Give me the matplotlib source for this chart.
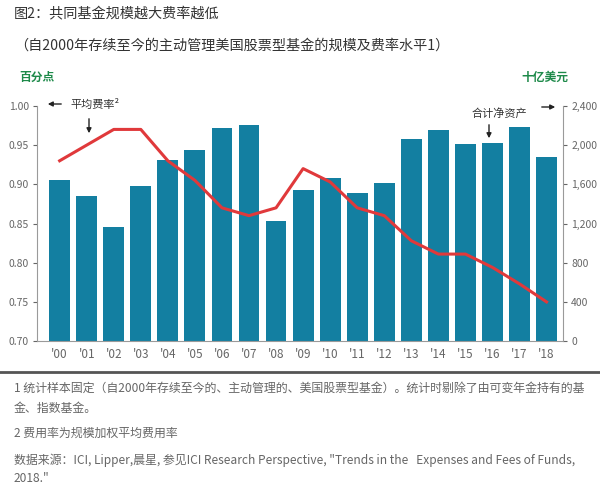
import matplotlib
matplotlib.use("Agg")
import matplotlib.pyplot as plt

plt.rcParams['font.family'] = ['Noto Sans CJK SC', 'DejaVu Sans']

years = ["'00", "'01", "'02", "'03", "'04", "'05", "'06", "'07", "'08", "'09",
         "'10", "'11", "'12", "'13", "'14", "'15", "'16", "'17", "'18"]
assets = [1640, 1480, 1160, 1580, 1845, 1955, 2170, 2210, 1230, 1545,
          1660, 1515, 1610, 2060, 2150, 2010, 2020, 2180, 1875]
expense = [0.93, 0.95, 0.97, 0.97, 0.93, 0.905, 0.87, 0.86, 0.87, 0.92,
           0.903, 0.87, 0.86, 0.828, 0.811, 0.811, 0.794, 0.773, 0.75]
left_ticks = [0.70, 0.75, 0.80, 0.85, 0.90, 0.95, 1.00]
right_ticks = [0, 400, 800, 1200, 1600, 2000, 2400]

bar_color = '#137fa1'
line_color = '#e0393b'
tick_color = '#666666'
spine_color = '#9a9a9a'
green = '#1e8a4a'

fig = plt.figure(figsize=(6.0, 4.88), dpi=100)
ax = fig.add_axes([0.062, 0.301, 0.876, 0.482])
x = list(range(len(years)))
ax.bar(x, assets, width=0.77, color=bar_color, zorder=2)
ax.set_ylim(0, 2400)
ax.set_xlim(-0.83, 18.6)

ax2 = ax.twinx()
ax2.plot(x, expense, color=line_color, lw=2.2, zorder=3)
ax2.set_ylim(0.70, 1.00)

# bars axis: ticks on the right
ax.yaxis.tick_right()
ax.yaxis.set_label_position('right')
ax.set_yticks(right_ticks)
ax.set_yticklabels([f"{v:,}" for v in right_ticks])
ax.set_xticks(x)
ax.set_xticklabels(years)
ax.tick_params(axis='x', length=0, labelsize=8.5, colors=tick_color, pad=5)
ax.tick_params(axis='y', length=3, labelsize=7.5, colors=tick_color, pad=3, direction='out',
               left=False, labelleft=False, right=True, labelright=True)
for s in ['top', 'left']:
    ax.spines[s].set_visible(False)
for s in ['right', 'bottom']:
    ax.spines[s].set_color(spine_color)

# line axis: ticks on the left
ax2.yaxis.tick_left()
ax2.set_yticks(left_ticks)
ax2.set_yticklabels([f"{v:.2f}" for v in left_ticks])
ax2.tick_params(axis='y', length=3, labelsize=7.5, colors=tick_color, pad=3, direction='out',
                right=False, labelright=False, left=True, labelleft=True)
for s in ['top', 'right', 'bottom']:
    ax2.spines[s].set_visible(False)
ax2.spines['left'].set_visible(True)
ax2.spines['left'].set_color(spine_color)

# annotations
fig.text(70/600, 1-104/488, '平均费率²', fontsize=8, color='#333333', va='center', ha='left')
fig.add_artist(matplotlib.patches.FancyArrowPatch((64/600, 1-104/488), (45/600, 1-104/488),
               transform=fig.transFigure, arrowstyle='-|>', mutation_scale=7, color='#222222', lw=1))
fig.add_artist(matplotlib.patches.FancyArrowPatch((89/600, 1-116/488), (89/600, 1-136/488),
               transform=fig.transFigure, arrowstyle='-|>', mutation_scale=7, color='#222222', lw=1))
fig.text(472/600, 1-113/488, '合计净资产', fontsize=8, color='#333333', va='center', ha='left')
fig.add_artist(matplotlib.patches.FancyArrowPatch((539/600, 1-107/488), (558/600, 1-107/488),
               transform=fig.transFigure, arrowstyle='-|>', mutation_scale=7, color='#222222', lw=1))
fig.add_artist(matplotlib.patches.FancyArrowPatch((489/600, 1-122/488), (489/600, 1-141/488),
               transform=fig.transFigure, arrowstyle='-|>', mutation_scale=7, color='#222222', lw=1))

# titles
fig.text(14/600, 1-13/488, '图2：共同基金规模越大费率越低', fontsize=10.2, color='#333333', va='center', ha='left')
fig.text(14/600, 1-46/488, '（自2000年存续至今的主动管理美国股票型基金的规模及费率水平1）', fontsize=10.2,
         color='#333333', va='center', ha='left')
fig.text(19/600, 1-77/488, '百分点', fontsize=8.5, color=green, fontweight='bold', va='center', ha='left')
fig.text(568/600, 1-77/488, '十亿美元', fontsize=8.5, color=green, fontweight='bold', va='center', ha='right')

# separator
fig.add_artist(matplotlib.lines.Line2D([0, 1], [1-372/488, 1-372/488], transform=fig.transFigure,
               color='#555555', lw=2))

foot_color = '#666666'
fs = 8.6
fig.text(14/600, 1-388/488, '1 统计样本固定（自2000年存续至今的、主动管理的、美国股票型基金）。统计时剔除了由可变年金持有的基',
         fontsize=fs, color=foot_color, va='center', ha='left')
fig.text(14/600, 1-408/488, '金、指数基金。', fontsize=fs, color=foot_color, va='center', ha='left')
fig.text(14/600, 1-433/488, '2 费用率为规模加权平均费用率', fontsize=fs, color=foot_color, va='center', ha='left')
fig.text(14/600, 1-460/488, '数据来源：ICI, Lipper,晨星, 参见ICI Research Perspective, "Trends in the   Expenses and Fees of Funds,',
         fontsize=fs, color=foot_color, va='center', ha='left')
fig.text(14/600, 1-479/488, '2018."', fontsize=fs, color=foot_color, va='center', ha='left')

fig.savefig('out.png', dpi=100)
